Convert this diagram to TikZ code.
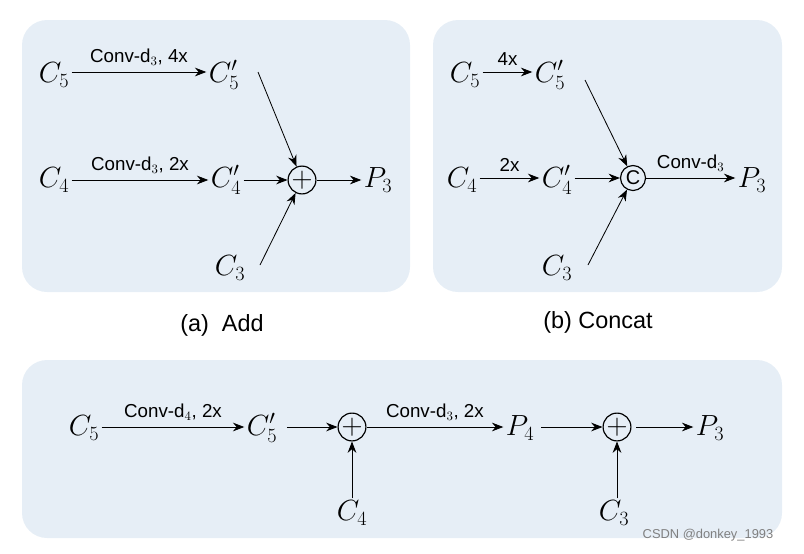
\documentclass[tikz,border=0pt]{standalone}
\usepackage{fontspec}
\setsansfont{Liberation Sans}
\usetikzlibrary{arrows.meta}
\begin{document}
\begin{tikzpicture}[x=0.03cm,y=-0.03cm,
  var/.style={font=\fontsize{25}{28}\selectfont,inner sep=2pt},
  lab/.style={font=\sffamily\fontsize{16}{18}\selectfont,inner sep=1pt},
  op/.style={circle,draw,line width=1pt,minimum size=0.75cm,inner sep=0pt,font=\fontsize{24}{26}\selectfont},
  arr/.style={-{Stealth[length=3.4mm,width=2.6mm]},line width=0.7pt}]
\definecolor{panelc}{HTML}{E6EEF6}
\useasboundingbox (0,0) rectangle (804,553);
\fill[panelc,rounded corners=0.75cm] (22,20) rectangle (410,292);
\fill[panelc,rounded corners=0.75cm] (433,20) rectangle (782,292);
\fill[panelc,rounded corners=0.75cm] (22,360) rectangle (782,538);
\node[font=\sffamily\fontsize{20}{24}\selectfont] (la) at (222,325) {(a)\ \ Add};
\node[font=\sffamily\fontsize{20}{24}\selectfont] (lb) at (598,322) {(b) Concat};
% (a)
\node[var] (a5) at (54,75) {$C_5$};
\node[var] (a5p) at (224,75) {$C_5'$};
\node[var] (a4) at (54,180) {$C_4$};
\node[var] (a4p) at (226,180) {$C_4'$};
\node[op] (ap) at (302,180) {$+$};
\node[var] (a3p) at (378,180) {$P_3$};
\node[var] (a3) at (230,268) {$C_3$};
\coordinate (a5e) at (258,72); \coordinate (a3e) at (260,265);
\draw[arr] (a5.east |- 0,72) -- node[lab,above=4pt]{Conv-d$_3$, 4x} (a5p.west |- 0,72);
\draw[arr] (a4.east |- ap) -- node[lab,above=4pt]{Conv-d$_3$, 2x} (a4p.west |- ap);
\draw[arr] (a4p.east |- ap) -- (ap);
\draw[arr] (ap) -- (a3p.west |- ap);
\draw[arr] (a5e) -- (ap);
\draw[arr] (a3e) -- (ap);
% (b)
\node[var] (b5) at (465,75) {$C_5$};
\node[var] (b5p) at (550,75) {$C_5'$};
\node[var] (b4) at (462,180) {$C_4$};
\node[var] (b4p) at (557,180) {$C_4'$};
\node[op,font=\sffamily\fontsize{17}{20}\selectfont] (bc) at (633,178) {C};
\node[var] (b3p) at (752,180) {$P_3$};
\node[var] (b3) at (557,268) {$C_3$};
\coordinate (b5e) at (585,80); \coordinate (b3e) at (588,265);
\draw[arr] (b5.east |- 0,72) -- node[lab,above=4pt]{4x} (b5p.west |- 0,72);
\draw[arr] (b4.east |- bc) -- node[lab,above=4pt]{2x} (b4p.west |- bc);
\draw[arr] (b4p.east |- bc) -- (bc);
\draw[arr] (bc) -- node[lab,above=4pt]{Conv-d$_3$} (b3p.west |- bc);
\draw[arr] (b5e) -- (bc);
\draw[arr] (b3e) -- (bc);
% bottom
\node[var] (c5) at (84,428) {$C_5$};
\node[var] (c5p) at (262,428) {$C_5'$};
\node[op] (cp1) at (352,427) {$+$};
\node[var] (c4) at (352,513) {$C_4$};
\node[var] (c4p) at (520,428) {$P_4$};
\node[op] (cp2) at (617,427) {$+$};
\node[var] (c3) at (614,513) {$C_3$};
\node[var] (c3p) at (710,428) {$P_3$};
\draw[arr] (c5.east |- cp1) -- node[lab,above=4pt]{Conv-d$_4$, 2x} (c5p.west |- cp1);
\draw[arr] ([xshift=6pt]c5p.east |- cp1) -- (cp1);
\draw[arr] (c4) -- (cp1);
\draw[arr] (cp1) -- node[lab,above=4pt]{Conv-d$_3$, 2x} (c4p.west |- cp1);
\draw[arr] ([xshift=4pt]c4p.east |- cp2) -- (cp2);
\draw[arr] (c3.north -| cp2) -- (cp2);
\draw[arr] ([xshift=4pt]cp2.east) -- (c3p.west |- cp2);
\node[font=\sffamily\fontsize{11}{12}\selectfont,text=gray] (wm) at (708,535) {CSDN @donkey\_1993};
\end{tikzpicture}
\end{document}
